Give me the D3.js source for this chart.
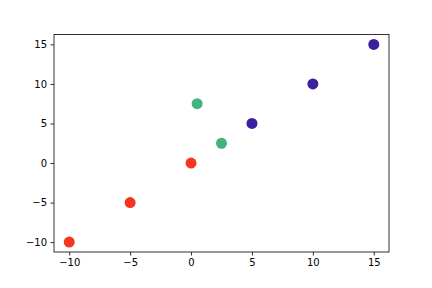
<!DOCTYPE html>
<html><head><meta charset="utf-8">
<script src="https://cdn.jsdelivr.net/npm/d3@7"></script>
<style>body{margin:0;background:#fff}</style>
</head><body>
<svg id="c" width="432" height="288"></svg>
<script>
const groups = ["red", "green", "purple"];
const xValues = [-10, -5, 0, 0.5, 2.5, 5, 10, 15];
const yValues = [-10, -5, 0, 7.5, 2.5, 5, 10, 15];
const groupOf = ["red", "red", "red", "green", "green", "purple", "purple", "purple"];
const colors = ["#f4361f", "#43b27f", "#3a1f9f"];
const xTicks = [-10, -5, 0, 5, 10, 15];
const yTicks = [-10, -5, 0, 5, 10, 15];

const svg = d3.select("#c");
const L = 54, R = 389, T = 34.5, B = 252;
const x = d3.scaleLinear().domain([-11.25, 16.25]).range([L, R]);
const y = d3.scaleLinear().domain([-11.25, 16.25]).range([B, T]);
const color = d3.scaleOrdinal().domain(groups).range(colors);
const fmt = d => d < 0 ? "\u2212" + Math.abs(d) : String(d);

const font = "'DejaVu Sans', sans-serif";
const gx = svg.append("g").attr("transform", `translate(0,${B})`)
  .call(d3.axisBottom(x).tickValues(xTicks).tickFormat(fmt).tickSize(3.5).tickPadding(3.5));
const gy = svg.append("g").attr("transform", `translate(${L},0)`)
  .call(d3.axisLeft(y).tickValues(yTicks).tickFormat(fmt).tickSize(3.5).tickPadding(3.5));
[gx, gy].forEach(g => {
  g.select(".domain").remove();
  g.selectAll("line").attr("stroke", "#000").attr("stroke-width", 0.8);
  g.selectAll("text").attr("fill", "#000").style("font-family", font).style("font-size", "10px");
});

svg.append("g").selectAll("circle").data(xValues).join("circle")
  .attr("cx", (d, i) => x(d))
  .attr("cy", (d, i) => y(yValues[i]))
  .attr("r", 5.5)
  .attr("fill", (d, i) => color(groupOf[i]));

svg.append("rect").attr("x", L).attr("y", T).attr("width", R - L).attr("height", B - T)
  .attr("fill", "none").attr("stroke", "#000").attr("stroke-width", 0.8);
</script>
</body></html>
